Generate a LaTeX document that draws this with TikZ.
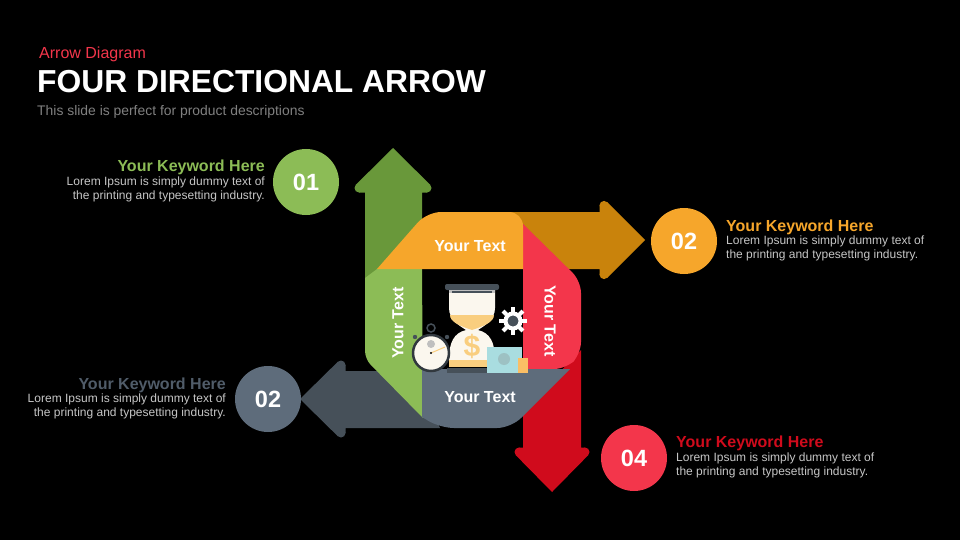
\documentclass[tikz,border=0pt]{standalone}
\usepackage{fontspec}
\setmainfont{Liberation Sans}
\definecolor{greenA}{HTML}{8CBC56}
\definecolor{greenB}{HTML}{69983A}
\definecolor{orangeA}{HTML}{F6A62B}
\definecolor{orangeB}{HTML}{C9830C}
\definecolor{redA}{HTML}{F3364B}
\definecolor{redB}{HTML}{D00B1C}
\definecolor{slateA}{HTML}{5E6C7B}
\definecolor{slateB}{HTML}{465059}
\definecolor{sandA}{HTML}{F9CE7F}
\definecolor{paperA}{HTML}{FBF7EE}
\definecolor{moneyA}{HTML}{A9DDE0}
\tikzset{
  numdot/.style={circle,minimum size=66pt,inner sep=0pt,text=white,font=\fontsize{23.5}{24}\selectfont\bfseries},
  bandtext/.style={text=white,inner sep=0pt,font=\fontsize{16}{16}\selectfont\bfseries},
  keyword/.style={inner sep=0pt,font=\fontsize{16}{16}\selectfont\bfseries},
  bodytext/.style={inner sep=0pt,text=lightgray!90!white,font=\fontsize{12}{14}\selectfont}
}
\begin{document}
\begin{tikzpicture}[x=1pt,y=-1pt]
\fill[black] (0,0) rectangle (960,540);
\node(kicker)[anchor=base west,inner sep=0pt,text=redA,font=\fontsize{16}{16}\selectfont] at (39,59) {Arrow Diagram};
\node(title)[anchor=base west,inner sep=0pt,text=white,font=\fontsize{31.8}{33}\selectfont\bfseries] at (37,93) {FOUR DIRECTIONAL ARROW};
\node(subtitle)[anchor=base west,inner sep=0pt,text=gray,font=\fontsize{13.9}{14}\selectfont] at (37,116) {This slide is perfect for product descriptions};

\fill[greenB] (393,148) -- (430.2,184.8) -- (427,192.5) -- (422,192.5) -- (422,230) -- (365,282) -- (365,192.5) -- (359,192.5) -- (355.8,184.8) -- cycle;
\fill[orangeB] (645,240) -- (607.2,277.8) -- (599.5,274.6) -- (599.5,269) -- (560,269) -- (505,212) -- (599.5,212) -- (599.5,205.4) -- (607.2,202.2) -- cycle;
\fill[redB] (552,492) -- (515.8,455.2) -- (519,447.5) -- (523,447.5) -- (523,410) -- (581,350) -- (581,447.5) -- (585,447.5) -- (588.2,455.2) -- cycle;
\fill[slateB] (300,399) -- (337.8,361.8) -- (345.5,365) -- (345.5,371) -- (430,371) -- (425,395) -- (440,428) -- (345.5,428) -- (345.5,433) -- (337.8,436.2) -- cycle;
\foreach \lobe/\cx/\cy in {greenB/359/188,greenB/427/188,orangeB/604/205.4,orangeB/604/274.6,redB/519/452,redB/585/452,slateB/341/365,slateB/341/433}
  \fill[\lobe] (\cx,\cy) circle (4.5);

\fill[greenA] (377,269) -- (422,269) -- (423,418) [rounded corners=8pt] -- (365,359) -- (365,320) [sharp corners] -- (365,278) -- cycle;
\fill[redA] (523,224) [rounded corners=12pt] -- (581,281) -- (581,354) -- (566,369) [sharp corners] -- (523,369) -- cycle;
\fill[orangeA] (377,269) [rounded corners=14pt] -- (427,212) -- (523,212) -- (523,250) [sharp corners] -- (523,269) -- cycle;
\fill[slateA] (422,369) -- (570,369) [rounded corners=14pt] -- (511,428) -- (440,428) [sharp corners] -- (422,417) -- cycle;

\node(topband)[bandtext] at (470,246) {Your Text};
\node(leftband)[bandtext,rotate=90] at (398,323) {Your Text};
\node(rightband)[bandtext,rotate=-90] at (550,321) {Your Text};
\node(lowband)[bandtext] at (480,397) {Your Text};

\fill[slateB,rounded corners=2pt] (445,284) rectangle (499,290);
\fill[paperA] (449,290) -- (495,290) -- (495,308) .. controls (495,320) and (484,326) .. (478,330) .. controls (490,333) and (495,342) .. (495,360) -- (449,360) .. controls (449,342) and (454,333) .. (466,330) .. controls (460,326) and (449,320) .. (449,308) -- cycle;
\fill[lightgray] (449,290) rectangle (495,293);
\fill[slateB] (452,291) rectangle (492,293);
\fill[sandA] (450,315) -- (494,315) .. controls (494,322) and (484,326) .. (472,330) .. controls (460,326) and (450,322) .. (450,315) -- cycle;
\node(dollar)[inner sep=0pt,text=sandA,font=\fontsize{30}{30}\selectfont\bfseries] at (472,346) {\$};
\fill[sandA] (449,360) rectangle (495,367);
\fill[slateB] (447,368) rectangle (488,373);

\foreach \ang in {0,45,...,315}
  \fill[white,rotate around={\ang:(513,321)}] (511,307) rectangle (515,312);
\node(gear)[draw=white,fill=slateB,circle,minimum size=15pt,line width=4pt,inner sep=0pt] at (513,321) {};

\draw[slateB,line width=1.5pt] (431,328) circle (4);
\fill[slateB] (415,337) circle (2.2);
\fill[slateB] (447,337) circle (2.2);
\node(watch)[draw=slateB!70!black,fill=paperA,circle,minimum size=36pt,line width=2.5pt,inner sep=0pt] at (431,353) {};
\fill[lightgray] (431,344) circle (4);
\draw[sandA,line width=1pt] (watch.center) -- (445,347);
\fill[black] (watch.center) circle (1.2);

\fill[moneyA] (487,347) rectangle (522,373);
\fill[moneyA!70!gray] (504,359) circle (6);
\fill[sandA!80!orange] (518,358) rectangle (528,373);

\node(dotA)[numdot,fill=greenA] at (306,182) {01};
\node(dotB)[numdot,fill=orangeA] at (684,241) {02};
\node(dotC)[numdot,fill=slateA] at (268,399) {02};
\node(dotD)[numdot,fill=redA] at (634,458) {04};

\node(keyA)[keyword,anchor=east,text=greenA] at (265,167) {Your Keyword Here};
\node(textA)[bodytext,anchor=north east,align=right] at (265,177) {Lorem Ipsum is simply dummy text of\\the printing and typesetting industry.};
\node(keyB)[keyword,anchor=west,text=orangeA] at (726,227) {Your Keyword Here};
\node(textB)[bodytext,anchor=north west,align=left] at (726,235.5) {Lorem Ipsum is simply dummy text of\\the printing and typesetting industry.};
\node(keyC)[keyword,anchor=east,text=slateA!85!black] at (226,385) {Your Keyword Here};
\node(textC)[bodytext,anchor=north east,align=right] at (226,393.5) {Lorem Ipsum is simply dummy text of\\the printing and typesetting industry.};
\node(keyD)[keyword,anchor=west,text=redB] at (676,443) {Your Keyword Here};
\node(textD)[bodytext,anchor=north west,align=left] at (676,453) {Lorem Ipsum is simply dummy text of\\the printing and typesetting industry.};
\end{tikzpicture}
\end{document}
